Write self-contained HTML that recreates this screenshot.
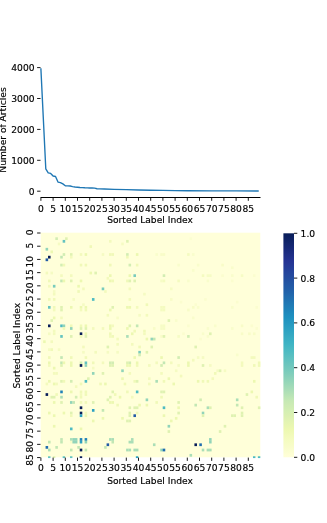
<!DOCTYPE html>
<html><head><meta charset="utf-8"><title>Label distribution</title>
<style>html,body{margin:0;padding:0;background:#fff}svg{display:block}svg text{stroke:#000;stroke-width:.16px;stroke-linejoin:round}</style></head>
<body>
<svg width="327" height="523" viewBox="0 0 327 523" font-family="'DejaVu Sans', 'Liberation Sans', sans-serif" font-size="9.15px" fill="#000">
<rect width="327" height="523" fill="#fff" stroke="none"/>
<path d="M40.90,68.84 L43.34,118.89 L45.78,168.80 L48.22,172.81 L50.66,173.43 L53.10,176.00 L55.54,176.52 L57.98,182.05 L60.42,182.61 L62.86,183.88 L65.30,185.70 L67.74,185.89 L70.18,186.01 L72.62,186.56 L75.06,186.97 L77.50,187.24 L79.94,187.49 L82.38,187.62 L84.82,187.80 L87.26,187.92 L89.70,187.99 L92.14,188.05 L94.58,188.17 L97.02,188.73 L99.46,188.85 L104.34,189.04 L114.10,189.35 L126.30,189.66 L138.50,189.96 L150.70,190.21 L162.90,190.43 L175.10,190.58 L187.30,190.71 L211.70,190.83 L236.10,190.92 L258.06,190.98" fill="none" stroke="#1f77b4" stroke-width="1.36" stroke-linejoin="round" stroke-linecap="square"/>
<path d="M40.60,197.5H260.50" stroke="#000" stroke-width="1.0" fill="none"/>
<path d="M40.90,197.5v3.3 M53.10,197.5v3.3 M65.30,197.5v3.3 M77.50,197.5v3.3 M89.70,197.5v3.3 M101.90,197.5v3.3 M114.10,197.5v3.3 M126.30,197.5v3.3 M138.50,197.5v3.3 M150.70,197.5v3.3 M162.90,197.5v3.3 M175.10,197.5v3.3 M187.30,197.5v3.3 M199.50,197.5v3.3 M211.70,197.5v3.3 M223.90,197.5v3.3 M236.10,197.5v3.3 M248.30,197.5v3.3 M40.50,191.20h-3.4 M40.50,160.30h-3.4 M40.50,129.40h-3.4 M40.50,98.50h-3.4 M40.50,67.60h-3.4" stroke="#000" stroke-width="0.9" fill="none"/>
<text x="40.90" y="211.5" text-anchor="middle">0</text>
<text x="53.10" y="211.5" text-anchor="middle">5</text>
<text x="65.30" y="211.5" text-anchor="middle">10</text>
<text x="77.50" y="211.5" text-anchor="middle">15</text>
<text x="89.70" y="211.5" text-anchor="middle">20</text>
<text x="101.90" y="211.5" text-anchor="middle">25</text>
<text x="114.10" y="211.5" text-anchor="middle">30</text>
<text x="126.30" y="211.5" text-anchor="middle">35</text>
<text x="138.50" y="211.5" text-anchor="middle">40</text>
<text x="150.70" y="211.5" text-anchor="middle">45</text>
<text x="162.90" y="211.5" text-anchor="middle">50</text>
<text x="175.10" y="211.5" text-anchor="middle">55</text>
<text x="187.30" y="211.5" text-anchor="middle">60</text>
<text x="199.50" y="211.5" text-anchor="middle">65</text>
<text x="211.70" y="211.5" text-anchor="middle">70</text>
<text x="223.90" y="211.5" text-anchor="middle">75</text>
<text x="236.10" y="211.5" text-anchor="middle">80</text>
<text x="248.30" y="211.5" text-anchor="middle">85</text>
<text x="34.5" y="194.60" text-anchor="end">0</text>
<text x="34.5" y="163.70" text-anchor="end">1000</text>
<text x="34.5" y="132.80" text-anchor="end">2000</text>
<text x="34.5" y="101.90" text-anchor="end">3000</text>
<text x="34.5" y="71.00" text-anchor="end">4000</text>
<text x="150" y="223" text-anchor="middle">Sorted Label Index</text>
<text transform="translate(6.3,130) rotate(-90)" text-anchor="middle">Number of Articles</text>
<rect x="40.7" y="232.7" width="219.60" height="224.60" fill="#ffffd9"/>
<defs><filter id="bl" x="-2%" y="-2%" width="104%" height="104%" color-interpolation-filters="sRGB"><feGaussianBlur stdDeviation="0.35"/></filter></defs>
<g filter="url(#bl)">
<rect x="55.34" y="237.28" width="2.56" height="2.76" fill="#d2edb3"/>
<rect x="65.10" y="237.28" width="2.56" height="2.76" fill="#dff2b2"/>
<rect x="189.54" y="237.28" width="2.56" height="2.76" fill="#fbfed1"/>
<rect x="62.66" y="239.93" width="2.56" height="2.76" fill="#64c3bf"/>
<rect x="109.02" y="239.93" width="2.56" height="2.76" fill="#f3fabd"/>
<rect x="126.10" y="239.93" width="2.56" height="2.76" fill="#dff2b2"/>
<rect x="57.78" y="242.57" width="2.56" height="2.76" fill="#f5fbc3"/>
<rect x="121.22" y="242.57" width="2.56" height="2.76" fill="#f5fbc3"/>
<rect x="89.50" y="245.21" width="2.56" height="2.76" fill="#f0f9b8"/>
<rect x="45.58" y="247.85" width="2.56" height="2.76" fill="#91d4b9"/>
<rect x="50.46" y="250.49" width="2.56" height="2.76" fill="#ecf8b1"/>
<rect x="62.66" y="253.14" width="2.56" height="2.76" fill="#d2edb3"/>
<rect x="69.98" y="253.14" width="2.56" height="2.76" fill="#dff2b2"/>
<rect x="79.74" y="253.14" width="2.56" height="2.76" fill="#f3fabd"/>
<rect x="84.62" y="253.14" width="2.56" height="2.76" fill="#ecf8b1"/>
<rect x="101.70" y="253.14" width="2.56" height="2.76" fill="#f5fbc3"/>
<rect x="109.02" y="253.14" width="2.56" height="2.76" fill="#f0f9b8"/>
<rect x="111.46" y="253.14" width="2.56" height="2.76" fill="#f0f9b8"/>
<rect x="126.10" y="253.14" width="2.56" height="2.76" fill="#d2edb3"/>
<rect x="135.86" y="253.14" width="2.56" height="2.76" fill="#ecf8b1"/>
<rect x="155.38" y="253.14" width="2.56" height="2.76" fill="#f9fdcc"/>
<rect x="160.26" y="253.14" width="2.56" height="2.76" fill="#f8fcc8"/>
<rect x="162.70" y="253.14" width="2.56" height="2.76" fill="#f8fcc8"/>
<rect x="187.10" y="253.14" width="2.56" height="2.76" fill="#f4fbc0"/>
<rect x="191.98" y="253.14" width="2.56" height="2.76" fill="#f9fdcc"/>
<rect x="48.02" y="255.78" width="2.56" height="2.76" fill="#081d58"/>
<rect x="60.22" y="255.78" width="2.56" height="2.76" fill="#c2e7b4"/>
<rect x="69.98" y="255.78" width="2.56" height="2.76" fill="#f3fabd"/>
<rect x="126.10" y="255.78" width="2.56" height="2.76" fill="#f0f9b8"/>
<rect x="45.58" y="258.42" width="2.56" height="2.76" fill="#225ba6"/>
<rect x="60.22" y="263.70" width="2.56" height="2.76" fill="#d2edb3"/>
<rect x="62.66" y="263.70" width="2.56" height="2.76" fill="#f0f9b8"/>
<rect x="79.74" y="263.70" width="2.56" height="2.76" fill="#f0f9b8"/>
<rect x="84.62" y="263.70" width="2.56" height="2.76" fill="#f0f9b8"/>
<rect x="109.02" y="263.70" width="2.56" height="2.76" fill="#f0f9b8"/>
<rect x="128.54" y="263.70" width="2.56" height="2.76" fill="#d2edb3"/>
<rect x="135.86" y="263.70" width="2.56" height="2.76" fill="#f0f9b8"/>
<rect x="177.34" y="263.70" width="2.56" height="2.76" fill="#f9fdcc"/>
<rect x="196.86" y="263.70" width="2.56" height="2.76" fill="#f9fdcc"/>
<rect x="221.26" y="263.70" width="2.56" height="2.76" fill="#f8fcc8"/>
<rect x="231.02" y="266.35" width="2.56" height="2.76" fill="#f9fdcc"/>
<rect x="191.98" y="268.99" width="2.56" height="2.76" fill="#f9fdcc"/>
<rect x="45.58" y="271.63" width="2.56" height="2.76" fill="#f3fabd"/>
<rect x="50.46" y="271.63" width="2.56" height="2.76" fill="#f5fbc3"/>
<rect x="89.50" y="271.63" width="2.56" height="2.76" fill="#ecf8b1"/>
<rect x="94.38" y="271.63" width="2.56" height="2.76" fill="#dff2b2"/>
<rect x="60.22" y="274.27" width="2.56" height="2.76" fill="#f3fabd"/>
<rect x="69.98" y="274.27" width="2.56" height="2.76" fill="#f3fabd"/>
<rect x="109.02" y="274.27" width="2.56" height="2.76" fill="#ecf8b1"/>
<rect x="128.54" y="274.27" width="2.56" height="2.76" fill="#ecf8b1"/>
<rect x="133.42" y="274.27" width="2.56" height="2.76" fill="#79cbbc"/>
<rect x="162.70" y="274.27" width="2.56" height="2.76" fill="#d2edb3"/>
<rect x="201.74" y="274.27" width="2.56" height="2.76" fill="#f4fbc0"/>
<rect x="206.62" y="274.27" width="2.56" height="2.76" fill="#f6fcc5"/>
<rect x="209.06" y="274.27" width="2.56" height="2.76" fill="#f6fcc5"/>
<rect x="221.26" y="274.27" width="2.56" height="2.76" fill="#fbfdcf"/>
<rect x="231.02" y="274.27" width="2.56" height="2.76" fill="#f9fdcc"/>
<rect x="240.78" y="274.27" width="2.56" height="2.76" fill="#f6fcc5"/>
<rect x="252.98" y="274.27" width="2.56" height="2.76" fill="#fbfdcf"/>
<rect x="106.58" y="276.91" width="2.56" height="2.76" fill="#f3fabd"/>
<rect x="48.02" y="279.56" width="2.56" height="2.76" fill="#f0f9b8"/>
<rect x="60.22" y="279.56" width="2.56" height="2.76" fill="#c2e7b4"/>
<rect x="62.66" y="279.56" width="2.56" height="2.76" fill="#ecf8b1"/>
<rect x="69.98" y="279.56" width="2.56" height="2.76" fill="#dff2b2"/>
<rect x="79.74" y="279.56" width="2.56" height="2.76" fill="#ecf8b1"/>
<rect x="109.02" y="279.56" width="2.56" height="2.76" fill="#ecf8b1"/>
<rect x="111.46" y="279.56" width="2.56" height="2.76" fill="#f0f9b8"/>
<rect x="126.10" y="279.56" width="2.56" height="2.76" fill="#f0f9b8"/>
<rect x="128.54" y="279.56" width="2.56" height="2.76" fill="#dff2b2"/>
<rect x="133.42" y="279.56" width="2.56" height="2.76" fill="#dff2b2"/>
<rect x="160.26" y="279.56" width="2.56" height="2.76" fill="#f6fcc5"/>
<rect x="162.70" y="279.56" width="2.56" height="2.76" fill="#f4fbc0"/>
<rect x="177.34" y="279.56" width="2.56" height="2.76" fill="#f4fbc0"/>
<rect x="187.10" y="279.56" width="2.56" height="2.76" fill="#f9fdcc"/>
<rect x="206.62" y="279.56" width="2.56" height="2.76" fill="#f9fdcc"/>
<rect x="231.02" y="279.56" width="2.56" height="2.76" fill="#fbfdcf"/>
<rect x="48.02" y="284.84" width="2.56" height="2.76" fill="#f3fabd"/>
<rect x="52.90" y="284.84" width="2.56" height="2.76" fill="#79cbbc"/>
<rect x="77.30" y="284.84" width="2.56" height="2.76" fill="#ecf8b1"/>
<rect x="82.18" y="287.48" width="2.56" height="2.76" fill="#f3fabd"/>
<rect x="101.70" y="287.48" width="2.56" height="2.76" fill="#79cbbc"/>
<rect x="128.54" y="287.48" width="2.56" height="2.76" fill="#f3fabd"/>
<rect x="170.02" y="287.48" width="2.56" height="2.76" fill="#f6fcc5"/>
<rect x="52.90" y="290.12" width="2.56" height="2.76" fill="#f5fbc3"/>
<rect x="77.30" y="290.12" width="2.56" height="2.76" fill="#f0f9b8"/>
<rect x="104.14" y="290.12" width="2.56" height="2.76" fill="#f3fabd"/>
<rect x="52.90" y="292.77" width="2.56" height="2.76" fill="#f3fabd"/>
<rect x="143.18" y="292.77" width="2.56" height="2.76" fill="#f5fbc3"/>
<rect x="48.02" y="298.05" width="2.56" height="2.76" fill="#f0f9b8"/>
<rect x="52.90" y="298.05" width="2.56" height="2.76" fill="#f0f9b8"/>
<rect x="72.42" y="298.05" width="2.56" height="2.76" fill="#f5fbc3"/>
<rect x="91.94" y="298.05" width="2.56" height="2.76" fill="#4ebbc2"/>
<rect x="128.54" y="298.05" width="2.56" height="2.76" fill="#f3fabd"/>
<rect x="170.02" y="298.05" width="2.56" height="2.76" fill="#f8fcc8"/>
<rect x="204.18" y="298.05" width="2.56" height="2.76" fill="#fbfdcf"/>
<rect x="179.78" y="300.69" width="2.56" height="2.76" fill="#fbfdcf"/>
<rect x="235.90" y="300.69" width="2.56" height="2.76" fill="#fbfdcf"/>
<rect x="82.18" y="303.33" width="2.56" height="2.76" fill="#f5fbc3"/>
<rect x="145.62" y="303.33" width="2.56" height="2.76" fill="#f0f9b8"/>
<rect x="194.42" y="303.33" width="2.56" height="2.76" fill="#fbfdcf"/>
<rect x="48.02" y="305.98" width="2.56" height="2.76" fill="#64c3bf"/>
<rect x="52.90" y="305.98" width="2.56" height="2.76" fill="#f0f9b8"/>
<rect x="60.22" y="305.98" width="2.56" height="2.76" fill="#dff2b2"/>
<rect x="69.98" y="305.98" width="2.56" height="2.76" fill="#ecf8b1"/>
<rect x="79.74" y="305.98" width="2.56" height="2.76" fill="#ecf8b1"/>
<rect x="84.62" y="305.98" width="2.56" height="2.76" fill="#ecf8b1"/>
<rect x="111.46" y="305.98" width="2.56" height="2.76" fill="#dff2b2"/>
<rect x="126.10" y="305.98" width="2.56" height="2.76" fill="#ecf8b1"/>
<rect x="128.54" y="305.98" width="2.56" height="2.76" fill="#ecf8b1"/>
<rect x="135.86" y="305.98" width="2.56" height="2.76" fill="#f3fabd"/>
<rect x="160.26" y="305.98" width="2.56" height="2.76" fill="#f4fbc0"/>
<rect x="162.70" y="305.98" width="2.56" height="2.76" fill="#f4fbc0"/>
<rect x="191.98" y="305.98" width="2.56" height="2.76" fill="#f8fcc8"/>
<rect x="196.86" y="305.98" width="2.56" height="2.76" fill="#f9fdcc"/>
<rect x="231.02" y="305.98" width="2.56" height="2.76" fill="#f9fdcc"/>
<rect x="255.42" y="305.98" width="2.56" height="2.76" fill="#fbfdcf"/>
<rect x="52.90" y="308.62" width="2.56" height="2.76" fill="#f3fabd"/>
<rect x="60.22" y="308.62" width="2.56" height="2.76" fill="#dff2b2"/>
<rect x="79.74" y="308.62" width="2.56" height="2.76" fill="#f3fabd"/>
<rect x="84.62" y="308.62" width="2.56" height="2.76" fill="#f0f9b8"/>
<rect x="109.02" y="308.62" width="2.56" height="2.76" fill="#ecf8b1"/>
<rect x="160.26" y="308.62" width="2.56" height="2.76" fill="#f4fbc0"/>
<rect x="162.70" y="308.62" width="2.56" height="2.76" fill="#f4fbc0"/>
<rect x="187.10" y="308.62" width="2.56" height="2.76" fill="#f8fcc8"/>
<rect x="106.58" y="313.90" width="2.56" height="2.76" fill="#f3fabd"/>
<rect x="138.30" y="313.90" width="2.56" height="2.76" fill="#f5fbc3"/>
<rect x="145.62" y="313.90" width="2.56" height="2.76" fill="#f3fabd"/>
<rect x="52.90" y="316.54" width="2.56" height="2.76" fill="#ecf8b1"/>
<rect x="60.22" y="316.54" width="2.56" height="2.76" fill="#f3fabd"/>
<rect x="116.34" y="316.54" width="2.56" height="2.76" fill="#f8fcc8"/>
<rect x="191.98" y="316.54" width="2.56" height="2.76" fill="#f9fdcc"/>
<rect x="50.46" y="319.19" width="2.56" height="2.76" fill="#dff2b2"/>
<rect x="167.58" y="319.19" width="2.56" height="2.76" fill="#dff2b2"/>
<rect x="174.90" y="319.19" width="2.56" height="2.76" fill="#f9fdcc"/>
<rect x="48.02" y="324.47" width="2.56" height="2.76" fill="#081d58"/>
<rect x="60.22" y="324.47" width="2.56" height="2.76" fill="#4ebbc2"/>
<rect x="62.66" y="324.47" width="2.56" height="2.76" fill="#91d4b9"/>
<rect x="69.98" y="324.47" width="2.56" height="2.76" fill="#f0f9b8"/>
<rect x="79.74" y="324.47" width="2.56" height="2.76" fill="#f0f9b8"/>
<rect x="84.62" y="324.47" width="2.56" height="2.76" fill="#ecf8b1"/>
<rect x="109.02" y="324.47" width="2.56" height="2.76" fill="#ecf8b1"/>
<rect x="111.46" y="324.47" width="2.56" height="2.76" fill="#f3fabd"/>
<rect x="128.54" y="324.47" width="2.56" height="2.76" fill="#dff2b2"/>
<rect x="135.86" y="324.47" width="2.56" height="2.76" fill="#c2e7b4"/>
<rect x="160.26" y="324.47" width="2.56" height="2.76" fill="#f6fcc5"/>
<rect x="162.70" y="324.47" width="2.56" height="2.76" fill="#f6fcc5"/>
<rect x="187.10" y="324.47" width="2.56" height="2.76" fill="#fbfdcf"/>
<rect x="213.94" y="324.47" width="2.56" height="2.76" fill="#f9fdcc"/>
<rect x="240.78" y="324.47" width="2.56" height="2.76" fill="#f8fcc8"/>
<rect x="250.54" y="324.47" width="2.56" height="2.76" fill="#fbfdcf"/>
<rect x="62.66" y="327.11" width="2.56" height="2.76" fill="#f0f9b8"/>
<rect x="69.98" y="327.11" width="2.56" height="2.76" fill="#91d4b9"/>
<rect x="79.74" y="327.11" width="2.56" height="2.76" fill="#dff2b2"/>
<rect x="84.62" y="327.11" width="2.56" height="2.76" fill="#dff2b2"/>
<rect x="91.94" y="327.11" width="2.56" height="2.76" fill="#f3fabd"/>
<rect x="101.70" y="327.11" width="2.56" height="2.76" fill="#f3fabd"/>
<rect x="109.02" y="327.11" width="2.56" height="2.76" fill="#ecf8b1"/>
<rect x="126.10" y="327.11" width="2.56" height="2.76" fill="#ecf8b1"/>
<rect x="152.94" y="327.11" width="2.56" height="2.76" fill="#f8fcc8"/>
<rect x="160.26" y="327.11" width="2.56" height="2.76" fill="#f6fcc5"/>
<rect x="162.70" y="327.11" width="2.56" height="2.76" fill="#f6fcc5"/>
<rect x="206.62" y="327.11" width="2.56" height="2.76" fill="#f9fdcc"/>
<rect x="231.02" y="327.11" width="2.56" height="2.76" fill="#f9fdcc"/>
<rect x="255.42" y="327.11" width="2.56" height="2.76" fill="#fbfdcf"/>
<rect x="52.90" y="329.75" width="2.56" height="2.76" fill="#f3fabd"/>
<rect x="133.42" y="329.75" width="2.56" height="2.76" fill="#f0f9b8"/>
<rect x="143.18" y="329.75" width="2.56" height="2.76" fill="#f0f9b8"/>
<rect x="48.02" y="332.40" width="2.56" height="2.76" fill="#f5fbc3"/>
<rect x="52.90" y="332.40" width="2.56" height="2.76" fill="#f3fabd"/>
<rect x="79.74" y="332.40" width="2.56" height="2.76" fill="#081d58"/>
<rect x="84.62" y="332.40" width="2.56" height="2.76" fill="#ecf8b1"/>
<rect x="109.02" y="332.40" width="2.56" height="2.76" fill="#f0f9b8"/>
<rect x="130.98" y="332.40" width="2.56" height="2.76" fill="#ecf8b1"/>
<rect x="143.18" y="332.40" width="2.56" height="2.76" fill="#f3fabd"/>
<rect x="182.22" y="332.40" width="2.56" height="2.76" fill="#fbfdcf"/>
<rect x="201.74" y="332.40" width="2.56" height="2.76" fill="#f9fdcc"/>
<rect x="209.06" y="332.40" width="2.56" height="2.76" fill="#dff2b2"/>
<rect x="240.78" y="332.40" width="2.56" height="2.76" fill="#f8fcc8"/>
<rect x="248.10" y="332.40" width="2.56" height="2.76" fill="#f8fcc8"/>
<rect x="252.98" y="332.40" width="2.56" height="2.76" fill="#f8fcc8"/>
<rect x="60.22" y="335.04" width="2.56" height="2.76" fill="#64c3bf"/>
<rect x="69.98" y="335.04" width="2.56" height="2.76" fill="#dff2b2"/>
<rect x="79.74" y="335.04" width="2.56" height="2.76" fill="#f0f9b8"/>
<rect x="84.62" y="335.04" width="2.56" height="2.76" fill="#dff2b2"/>
<rect x="109.02" y="335.04" width="2.56" height="2.76" fill="#f3fabd"/>
<rect x="111.46" y="335.04" width="2.56" height="2.76" fill="#f0f9b8"/>
<rect x="126.10" y="335.04" width="2.56" height="2.76" fill="#aadeb7"/>
<rect x="160.26" y="335.04" width="2.56" height="2.76" fill="#f8fcc8"/>
<rect x="162.70" y="335.04" width="2.56" height="2.76" fill="#dff2b2"/>
<rect x="177.34" y="335.04" width="2.56" height="2.76" fill="#f6fcc5"/>
<rect x="187.10" y="335.04" width="2.56" height="2.76" fill="#d2edb3"/>
<rect x="206.62" y="335.04" width="2.56" height="2.76" fill="#f9fdcc"/>
<rect x="116.34" y="337.68" width="2.56" height="2.76" fill="#f3fabd"/>
<rect x="145.62" y="337.68" width="2.56" height="2.76" fill="#ecf8b1"/>
<rect x="150.50" y="337.68" width="2.56" height="2.76" fill="#91d4b9"/>
<rect x="152.94" y="337.68" width="2.56" height="2.76" fill="#c2e7b4"/>
<rect x="199.30" y="337.68" width="2.56" height="2.76" fill="#fbfdcf"/>
<rect x="43.14" y="340.32" width="2.56" height="2.76" fill="#ecf8b1"/>
<rect x="50.46" y="340.32" width="2.56" height="2.76" fill="#f3fabd"/>
<rect x="116.34" y="342.96" width="2.56" height="2.76" fill="#f3fabd"/>
<rect x="130.98" y="342.96" width="2.56" height="2.76" fill="#f3fabd"/>
<rect x="82.18" y="345.61" width="2.56" height="2.76" fill="#f3fabd"/>
<rect x="106.58" y="345.61" width="2.56" height="2.76" fill="#dff2b2"/>
<rect x="138.30" y="345.61" width="2.56" height="2.76" fill="#f0f9b8"/>
<rect x="150.50" y="345.61" width="2.56" height="2.76" fill="#dff2b2"/>
<rect x="194.42" y="345.61" width="2.56" height="2.76" fill="#dff2b2"/>
<rect x="48.02" y="348.25" width="2.56" height="2.76" fill="#f5fbc3"/>
<rect x="50.46" y="348.25" width="2.56" height="2.76" fill="#f0f9b8"/>
<rect x="57.78" y="348.25" width="2.56" height="2.76" fill="#f5fbc3"/>
<rect x="82.18" y="350.89" width="2.56" height="2.76" fill="#f5fbc3"/>
<rect x="94.38" y="350.89" width="2.56" height="2.76" fill="#f3fabd"/>
<rect x="106.58" y="350.89" width="2.56" height="2.76" fill="#f5fbc3"/>
<rect x="116.34" y="350.89" width="2.56" height="2.76" fill="#f5fbc3"/>
<rect x="138.30" y="350.89" width="2.56" height="2.76" fill="#79cbbc"/>
<rect x="145.62" y="350.89" width="2.56" height="2.76" fill="#dff2b2"/>
<rect x="138.30" y="353.53" width="2.56" height="2.76" fill="#d2edb3"/>
<rect x="235.90" y="353.53" width="2.56" height="2.76" fill="#f9fdcc"/>
<rect x="48.02" y="356.17" width="2.56" height="2.76" fill="#f0f9b8"/>
<rect x="60.22" y="356.17" width="2.56" height="2.76" fill="#c2e7b4"/>
<rect x="69.98" y="356.17" width="2.56" height="2.76" fill="#f0f9b8"/>
<rect x="84.62" y="356.17" width="2.56" height="2.76" fill="#f0f9b8"/>
<rect x="133.42" y="356.17" width="2.56" height="2.76" fill="#ecf8b1"/>
<rect x="160.26" y="356.17" width="2.56" height="2.76" fill="#ecf8b1"/>
<rect x="177.34" y="356.17" width="2.56" height="2.76" fill="#d2edb3"/>
<rect x="196.86" y="356.17" width="2.56" height="2.76" fill="#f5fbc3"/>
<rect x="201.74" y="356.17" width="2.56" height="2.76" fill="#f5fbc3"/>
<rect x="250.54" y="356.17" width="2.56" height="2.76" fill="#f3fabd"/>
<rect x="252.98" y="356.17" width="2.56" height="2.76" fill="#f3fabd"/>
<rect x="191.98" y="358.82" width="2.56" height="2.76" fill="#f3fabd"/>
<rect x="48.02" y="361.46" width="2.56" height="2.76" fill="#ecf8b1"/>
<rect x="60.22" y="361.46" width="2.56" height="2.76" fill="#c2e7b4"/>
<rect x="62.66" y="361.46" width="2.56" height="2.76" fill="#ecf8b1"/>
<rect x="69.98" y="361.46" width="2.56" height="2.76" fill="#ecf8b1"/>
<rect x="79.74" y="361.46" width="2.56" height="2.76" fill="#d2edb3"/>
<rect x="84.62" y="361.46" width="2.56" height="2.76" fill="#64c3bf"/>
<rect x="91.94" y="361.46" width="2.56" height="2.76" fill="#f0f9b8"/>
<rect x="101.70" y="361.46" width="2.56" height="2.76" fill="#f3fabd"/>
<rect x="109.02" y="361.46" width="2.56" height="2.76" fill="#d2edb3"/>
<rect x="111.46" y="361.46" width="2.56" height="2.76" fill="#d2edb3"/>
<rect x="126.10" y="361.46" width="2.56" height="2.76" fill="#dff2b2"/>
<rect x="128.54" y="361.46" width="2.56" height="2.76" fill="#d2edb3"/>
<rect x="135.86" y="361.46" width="2.56" height="2.76" fill="#ecf8b1"/>
<rect x="155.38" y="361.46" width="2.56" height="2.76" fill="#f3fabd"/>
<rect x="162.70" y="361.46" width="2.56" height="2.76" fill="#c2e7b4"/>
<rect x="170.02" y="361.46" width="2.56" height="2.76" fill="#f3fabd"/>
<rect x="187.10" y="361.46" width="2.56" height="2.76" fill="#ecf8b1"/>
<rect x="240.78" y="361.46" width="2.56" height="2.76" fill="#f3fabd"/>
<rect x="257.86" y="361.46" width="2.56" height="2.76" fill="#f0f9b8"/>
<rect x="48.02" y="364.10" width="2.56" height="2.76" fill="#f3fabd"/>
<rect x="60.22" y="364.10" width="2.56" height="2.76" fill="#dff2b2"/>
<rect x="69.98" y="364.10" width="2.56" height="2.76" fill="#ecf8b1"/>
<rect x="79.74" y="364.10" width="2.56" height="2.76" fill="#081d58"/>
<rect x="84.62" y="364.10" width="2.56" height="2.76" fill="#91d4b9"/>
<rect x="109.02" y="364.10" width="2.56" height="2.76" fill="#dff2b2"/>
<rect x="111.46" y="364.10" width="2.56" height="2.76" fill="#dff2b2"/>
<rect x="126.10" y="364.10" width="2.56" height="2.76" fill="#ecf8b1"/>
<rect x="128.54" y="364.10" width="2.56" height="2.76" fill="#ecf8b1"/>
<rect x="135.86" y="364.10" width="2.56" height="2.76" fill="#f0f9b8"/>
<rect x="148.06" y="364.10" width="2.56" height="2.76" fill="#f3fabd"/>
<rect x="160.26" y="364.10" width="2.56" height="2.76" fill="#d2edb3"/>
<rect x="177.34" y="364.10" width="2.56" height="2.76" fill="#f5fbc3"/>
<rect x="187.10" y="364.10" width="2.56" height="2.76" fill="#ecf8b1"/>
<rect x="201.74" y="364.10" width="2.56" height="2.76" fill="#dff2b2"/>
<rect x="209.06" y="364.10" width="2.56" height="2.76" fill="#f5fbc3"/>
<rect x="240.78" y="364.10" width="2.56" height="2.76" fill="#f3fabd"/>
<rect x="252.98" y="364.10" width="2.56" height="2.76" fill="#f0f9b8"/>
<rect x="257.86" y="364.10" width="2.56" height="2.76" fill="#f0f9b8"/>
<rect x="52.90" y="366.74" width="2.56" height="2.76" fill="#ecf8b1"/>
<rect x="91.94" y="366.74" width="2.56" height="2.76" fill="#f5fbc3"/>
<rect x="121.22" y="369.38" width="2.56" height="2.76" fill="#91d4b9"/>
<rect x="174.90" y="369.38" width="2.56" height="2.76" fill="#f5fbc3"/>
<rect x="216.38" y="369.38" width="2.56" height="2.76" fill="#f5fbc3"/>
<rect x="218.82" y="369.38" width="2.56" height="2.76" fill="#dff2b2"/>
<rect x="223.70" y="369.38" width="2.56" height="2.76" fill="#f5fbc3"/>
<rect x="52.90" y="372.03" width="2.56" height="2.76" fill="#f3fabd"/>
<rect x="55.34" y="372.03" width="2.56" height="2.76" fill="#f3fabd"/>
<rect x="91.94" y="372.03" width="2.56" height="2.76" fill="#91d4b9"/>
<rect x="101.70" y="372.03" width="2.56" height="2.76" fill="#dff2b2"/>
<rect x="128.54" y="372.03" width="2.56" height="2.76" fill="#f3fabd"/>
<rect x="160.26" y="372.03" width="2.56" height="2.76" fill="#f3fabd"/>
<rect x="213.94" y="372.03" width="2.56" height="2.76" fill="#f0f9b8"/>
<rect x="179.78" y="374.67" width="2.56" height="2.76" fill="#f3fabd"/>
<rect x="87.06" y="377.31" width="2.56" height="2.76" fill="#dff2b2"/>
<rect x="121.22" y="377.31" width="2.56" height="2.76" fill="#ecf8b1"/>
<rect x="148.06" y="377.31" width="2.56" height="2.76" fill="#f3fabd"/>
<rect x="167.58" y="377.31" width="2.56" height="2.76" fill="#ecf8b1"/>
<rect x="211.50" y="377.31" width="2.56" height="2.76" fill="#f3fabd"/>
<rect x="48.02" y="379.95" width="2.56" height="2.76" fill="#ecf8b1"/>
<rect x="60.22" y="379.95" width="2.56" height="2.76" fill="#dff2b2"/>
<rect x="62.66" y="379.95" width="2.56" height="2.76" fill="#f0f9b8"/>
<rect x="69.98" y="379.95" width="2.56" height="2.76" fill="#d2edb3"/>
<rect x="84.62" y="379.95" width="2.56" height="2.76" fill="#4ebbc2"/>
<rect x="133.42" y="379.95" width="2.56" height="2.76" fill="#f0f9b8"/>
<rect x="135.86" y="379.95" width="2.56" height="2.76" fill="#dff2b2"/>
<rect x="155.38" y="379.95" width="2.56" height="2.76" fill="#aadeb7"/>
<rect x="162.70" y="379.95" width="2.56" height="2.76" fill="#f0f9b8"/>
<rect x="196.86" y="379.95" width="2.56" height="2.76" fill="#ecf8b1"/>
<rect x="201.74" y="379.95" width="2.56" height="2.76" fill="#f0f9b8"/>
<rect x="206.62" y="379.95" width="2.56" height="2.76" fill="#f0f9b8"/>
<rect x="252.98" y="379.95" width="2.56" height="2.76" fill="#ecf8b1"/>
<rect x="45.58" y="382.59" width="2.56" height="2.76" fill="#f3fabd"/>
<rect x="52.90" y="382.59" width="2.56" height="2.76" fill="#ecf8b1"/>
<rect x="55.34" y="382.59" width="2.56" height="2.76" fill="#f3fabd"/>
<rect x="79.74" y="382.59" width="2.56" height="2.76" fill="#f0f9b8"/>
<rect x="99.26" y="382.59" width="2.56" height="2.76" fill="#f0f9b8"/>
<rect x="104.14" y="382.59" width="2.56" height="2.76" fill="#ecf8b1"/>
<rect x="123.66" y="382.59" width="2.56" height="2.76" fill="#f0f9b8"/>
<rect x="148.06" y="382.59" width="2.56" height="2.76" fill="#f3fabd"/>
<rect x="172.46" y="382.59" width="2.56" height="2.76" fill="#ecf8b1"/>
<rect x="74.86" y="385.24" width="2.56" height="2.76" fill="#f3fabd"/>
<rect x="60.22" y="390.52" width="2.56" height="2.76" fill="#1f81b8"/>
<rect x="69.98" y="390.52" width="2.56" height="2.76" fill="#ecf8b1"/>
<rect x="79.74" y="390.52" width="2.56" height="2.76" fill="#f0f9b8"/>
<rect x="84.62" y="390.52" width="2.56" height="2.76" fill="#f0f9b8"/>
<rect x="111.46" y="390.52" width="2.56" height="2.76" fill="#dff2b2"/>
<rect x="126.10" y="390.52" width="2.56" height="2.76" fill="#f0f9b8"/>
<rect x="135.86" y="390.52" width="2.56" height="2.76" fill="#4ebbc2"/>
<rect x="160.26" y="390.52" width="2.56" height="2.76" fill="#dff2b2"/>
<rect x="162.70" y="390.52" width="2.56" height="2.76" fill="#dff2b2"/>
<rect x="250.54" y="390.52" width="2.56" height="2.76" fill="#ecf8b1"/>
<rect x="45.58" y="393.16" width="2.56" height="2.76" fill="#081d58"/>
<rect x="55.34" y="393.16" width="2.56" height="2.76" fill="#f0f9b8"/>
<rect x="79.74" y="393.16" width="2.56" height="2.76" fill="#f3fabd"/>
<rect x="84.62" y="393.16" width="2.56" height="2.76" fill="#f0f9b8"/>
<rect x="113.90" y="393.16" width="2.56" height="2.76" fill="#f0f9b8"/>
<rect x="245.66" y="393.16" width="2.56" height="2.76" fill="#dff2b2"/>
<rect x="50.46" y="395.80" width="2.56" height="2.76" fill="#dff2b2"/>
<rect x="52.90" y="395.80" width="2.56" height="2.76" fill="#dff2b2"/>
<rect x="60.22" y="395.80" width="2.56" height="2.76" fill="#aadeb7"/>
<rect x="74.86" y="395.80" width="2.56" height="2.76" fill="#d2edb3"/>
<rect x="79.74" y="395.80" width="2.56" height="2.76" fill="#f0f9b8"/>
<rect x="109.02" y="395.80" width="2.56" height="2.76" fill="#dff2b2"/>
<rect x="118.78" y="395.80" width="2.56" height="2.76" fill="#ecf8b1"/>
<rect x="130.98" y="395.80" width="2.56" height="2.76" fill="#f3fabd"/>
<rect x="160.26" y="395.80" width="2.56" height="2.76" fill="#f0f9b8"/>
<rect x="255.42" y="395.80" width="2.56" height="2.76" fill="#f0f9b8"/>
<rect x="106.58" y="398.45" width="2.56" height="2.76" fill="#dff2b2"/>
<rect x="145.62" y="398.45" width="2.56" height="2.76" fill="#91d4b9"/>
<rect x="199.30" y="398.45" width="2.56" height="2.76" fill="#d2edb3"/>
<rect x="235.90" y="398.45" width="2.56" height="2.76" fill="#aadeb7"/>
<rect x="52.90" y="401.09" width="2.56" height="2.76" fill="#ecf8b1"/>
<rect x="60.22" y="401.09" width="2.56" height="2.76" fill="#dff2b2"/>
<rect x="69.98" y="401.09" width="2.56" height="2.76" fill="#91d4b9"/>
<rect x="72.42" y="401.09" width="2.56" height="2.76" fill="#c2e7b4"/>
<rect x="79.74" y="401.09" width="2.56" height="2.76" fill="#f0f9b8"/>
<rect x="84.62" y="401.09" width="2.56" height="2.76" fill="#f0f9b8"/>
<rect x="91.94" y="401.09" width="2.56" height="2.76" fill="#dff2b2"/>
<rect x="109.02" y="401.09" width="2.56" height="2.76" fill="#ecf8b1"/>
<rect x="111.46" y="401.09" width="2.56" height="2.76" fill="#ecf8b1"/>
<rect x="155.38" y="401.09" width="2.56" height="2.76" fill="#f0f9b8"/>
<rect x="177.34" y="401.09" width="2.56" height="2.76" fill="#dff2b2"/>
<rect x="116.34" y="403.73" width="2.56" height="2.76" fill="#f0f9b8"/>
<rect x="138.30" y="403.73" width="2.56" height="2.76" fill="#ecf8b1"/>
<rect x="145.62" y="403.73" width="2.56" height="2.76" fill="#ecf8b1"/>
<rect x="194.42" y="403.73" width="2.56" height="2.76" fill="#c2e7b4"/>
<rect x="235.90" y="403.73" width="2.56" height="2.76" fill="#c2e7b4"/>
<rect x="79.74" y="406.37" width="2.56" height="2.76" fill="#081d58"/>
<rect x="128.54" y="406.37" width="2.56" height="2.76" fill="#dff2b2"/>
<rect x="133.42" y="406.37" width="2.56" height="2.76" fill="#dff2b2"/>
<rect x="135.86" y="406.37" width="2.56" height="2.76" fill="#dff2b2"/>
<rect x="162.70" y="406.37" width="2.56" height="2.76" fill="#4ebbc2"/>
<rect x="177.34" y="406.37" width="2.56" height="2.76" fill="#ecf8b1"/>
<rect x="206.62" y="406.37" width="2.56" height="2.76" fill="#aadeb7"/>
<rect x="209.06" y="406.37" width="2.56" height="2.76" fill="#dff2b2"/>
<rect x="240.78" y="406.37" width="2.56" height="2.76" fill="#dff2b2"/>
<rect x="257.86" y="406.37" width="2.56" height="2.76" fill="#dff2b2"/>
<rect x="91.94" y="409.01" width="2.56" height="2.76" fill="#2da1c2"/>
<rect x="101.70" y="409.01" width="2.56" height="2.76" fill="#c2e7b4"/>
<rect x="48.02" y="411.66" width="2.56" height="2.76" fill="#ecf8b1"/>
<rect x="62.66" y="411.66" width="2.56" height="2.76" fill="#ecf8b1"/>
<rect x="69.98" y="411.66" width="2.56" height="2.76" fill="#dff2b2"/>
<rect x="79.74" y="411.66" width="2.56" height="2.76" fill="#081d58"/>
<rect x="84.62" y="411.66" width="2.56" height="2.76" fill="#f3fabd"/>
<rect x="128.54" y="411.66" width="2.56" height="2.76" fill="#dff2b2"/>
<rect x="135.86" y="411.66" width="2.56" height="2.76" fill="#f0f9b8"/>
<rect x="177.34" y="411.66" width="2.56" height="2.76" fill="#dff2b2"/>
<rect x="201.74" y="411.66" width="2.56" height="2.76" fill="#91d4b9"/>
<rect x="240.78" y="411.66" width="2.56" height="2.76" fill="#dff2b2"/>
<rect x="52.90" y="414.30" width="2.56" height="2.76" fill="#ecf8b1"/>
<rect x="69.98" y="414.30" width="2.56" height="2.76" fill="#f0f9b8"/>
<rect x="79.74" y="414.30" width="2.56" height="2.76" fill="#2da1c2"/>
<rect x="84.62" y="414.30" width="2.56" height="2.76" fill="#ecf8b1"/>
<rect x="128.54" y="414.30" width="2.56" height="2.76" fill="#dff2b2"/>
<rect x="133.42" y="414.30" width="2.56" height="2.76" fill="#225ba6"/>
<rect x="162.70" y="414.30" width="2.56" height="2.76" fill="#ecf8b1"/>
<rect x="201.74" y="414.30" width="2.56" height="2.76" fill="#dff2b2"/>
<rect x="231.02" y="414.30" width="2.56" height="2.76" fill="#dff2b2"/>
<rect x="233.46" y="414.30" width="2.56" height="2.76" fill="#dff2b2"/>
<rect x="240.78" y="414.30" width="2.56" height="2.76" fill="#dff2b2"/>
<rect x="101.70" y="416.94" width="2.56" height="2.76" fill="#ecf8b1"/>
<rect x="121.22" y="416.94" width="2.56" height="2.76" fill="#ecf8b1"/>
<rect x="174.90" y="416.94" width="2.56" height="2.76" fill="#ecf8b1"/>
<rect x="91.94" y="419.58" width="2.56" height="2.76" fill="#ecf8b1"/>
<rect x="126.10" y="419.58" width="2.56" height="2.76" fill="#dff2b2"/>
<rect x="128.54" y="419.58" width="2.56" height="2.76" fill="#dff2b2"/>
<rect x="170.02" y="419.58" width="2.56" height="2.76" fill="#ecf8b1"/>
<rect x="52.90" y="424.87" width="2.56" height="2.76" fill="#ecf8b1"/>
<rect x="167.58" y="424.87" width="2.56" height="2.76" fill="#91d4b9"/>
<rect x="223.70" y="424.87" width="2.56" height="2.76" fill="#dff2b2"/>
<rect x="69.98" y="427.51" width="2.56" height="2.76" fill="#4ebbc2"/>
<rect x="79.74" y="427.51" width="2.56" height="2.76" fill="#ecf8b1"/>
<rect x="167.58" y="430.15" width="2.56" height="2.76" fill="#dff2b2"/>
<rect x="218.82" y="430.15" width="2.56" height="2.76" fill="#dff2b2"/>
<rect x="60.22" y="438.08" width="2.56" height="2.76" fill="#c2e7b4"/>
<rect x="69.98" y="438.08" width="2.56" height="2.76" fill="#aadeb7"/>
<rect x="72.42" y="438.08" width="2.56" height="2.76" fill="#91d4b9"/>
<rect x="74.86" y="438.08" width="2.56" height="2.76" fill="#91d4b9"/>
<rect x="79.74" y="438.08" width="2.56" height="2.76" fill="#1f81b8"/>
<rect x="84.62" y="438.08" width="2.56" height="2.76" fill="#1f81b8"/>
<rect x="109.02" y="438.08" width="2.56" height="2.76" fill="#aadeb7"/>
<rect x="111.46" y="438.08" width="2.56" height="2.76" fill="#aadeb7"/>
<rect x="130.98" y="438.08" width="2.56" height="2.76" fill="#aadeb7"/>
<rect x="209.06" y="438.08" width="2.56" height="2.76" fill="#91d4b9"/>
<rect x="48.02" y="440.72" width="2.56" height="2.76" fill="#c2e7b4"/>
<rect x="60.22" y="440.72" width="2.56" height="2.76" fill="#c2e7b4"/>
<rect x="69.98" y="440.72" width="2.56" height="2.76" fill="#f8fcc8"/>
<rect x="72.42" y="440.72" width="2.56" height="2.76" fill="#91d4b9"/>
<rect x="74.86" y="440.72" width="2.56" height="2.76" fill="#91d4b9"/>
<rect x="79.74" y="440.72" width="2.56" height="2.76" fill="#2da1c2"/>
<rect x="84.62" y="440.72" width="2.56" height="2.76" fill="#91d4b9"/>
<rect x="111.46" y="440.72" width="2.56" height="2.76" fill="#c2e7b4"/>
<rect x="128.54" y="440.72" width="2.56" height="2.76" fill="#aadeb7"/>
<rect x="130.98" y="440.72" width="2.56" height="2.76" fill="#aadeb7"/>
<rect x="209.06" y="440.72" width="2.56" height="2.76" fill="#91d4b9"/>
<rect x="106.58" y="443.36" width="2.56" height="2.76" fill="#225ba6"/>
<rect x="152.94" y="443.36" width="2.56" height="2.76" fill="#aadeb7"/>
<rect x="194.42" y="443.36" width="2.56" height="2.76" fill="#081d58"/>
<rect x="199.30" y="443.36" width="2.56" height="2.76" fill="#206daf"/>
<rect x="45.58" y="446.00" width="2.56" height="2.76" fill="#206daf"/>
<rect x="55.34" y="446.00" width="2.56" height="2.76" fill="#c2e7b4"/>
<rect x="77.30" y="446.00" width="2.56" height="2.76" fill="#c2e7b4"/>
<rect x="104.14" y="446.00" width="2.56" height="2.76" fill="#c2e7b4"/>
<rect x="48.02" y="448.64" width="2.56" height="2.76" fill="#aadeb7"/>
<rect x="69.98" y="448.64" width="2.56" height="2.76" fill="#c2e7b4"/>
<rect x="79.74" y="448.64" width="2.56" height="2.76" fill="#081d58"/>
<rect x="84.62" y="448.64" width="2.56" height="2.76" fill="#c2e7b4"/>
<rect x="126.10" y="448.64" width="2.56" height="2.76" fill="#aadeb7"/>
<rect x="128.54" y="448.64" width="2.56" height="2.76" fill="#aadeb7"/>
<rect x="133.42" y="448.64" width="2.56" height="2.76" fill="#aadeb7"/>
<rect x="135.86" y="448.64" width="2.56" height="2.76" fill="#aadeb7"/>
<rect x="160.26" y="448.64" width="2.56" height="2.76" fill="#91d4b9"/>
<rect x="162.70" y="448.64" width="2.56" height="2.76" fill="#206daf"/>
<rect x="201.74" y="448.64" width="2.56" height="2.76" fill="#aadeb7"/>
<rect x="206.62" y="448.64" width="2.56" height="2.76" fill="#aadeb7"/>
<rect x="209.06" y="448.64" width="2.56" height="2.76" fill="#aadeb7"/>
<rect x="189.54" y="453.93" width="2.56" height="2.76" fill="#aadeb7"/>
<rect x="48.02" y="456.27" width="2.44" height="1.8" fill="#64c3bf"/>
<rect x="52.90" y="456.27" width="2.44" height="1.8" fill="#dff2b2"/>
<rect x="62.66" y="456.27" width="2.44" height="1.8" fill="#64c3bf"/>
<rect x="69.98" y="456.27" width="2.44" height="1.8" fill="#64c3bf"/>
<rect x="79.74" y="456.27" width="2.44" height="1.8" fill="#081d58"/>
<rect x="135.86" y="456.27" width="2.44" height="1.8" fill="#2da1c2"/>
<rect x="252.98" y="456.27" width="2.44" height="1.8" fill="#4ebbc2"/>
<rect x="257.86" y="456.27" width="2.44" height="1.8" fill="#4ebbc2"/>
</g>
<path d="M40.90,457.6v3.3 M53.10,457.6v3.3 M65.30,457.6v3.3 M77.50,457.6v3.3 M89.70,457.6v3.3 M101.90,457.6v3.3 M114.10,457.6v3.3 M126.30,457.6v3.3 M138.50,457.6v3.3 M150.70,457.6v3.3 M162.90,457.6v3.3 M175.10,457.6v3.3 M187.30,457.6v3.3 M199.50,457.6v3.3 M211.70,457.6v3.3 M223.90,457.6v3.3 M236.10,457.6v3.3 M248.30,457.6v3.3 M40.50,233.00h-3.4 M40.50,246.21h-3.4 M40.50,259.42h-3.4 M40.50,272.63h-3.4 M40.50,285.84h-3.4 M40.50,299.05h-3.4 M40.50,312.26h-3.4 M40.50,325.47h-3.4 M40.50,338.68h-3.4 M40.50,351.89h-3.4 M40.50,365.10h-3.4 M40.50,378.31h-3.4 M40.50,391.52h-3.4 M40.50,404.73h-3.4 M40.50,417.94h-3.4 M40.50,431.15h-3.4 M40.50,444.36h-3.4 M40.50,457.57h-3.4" stroke="#000" stroke-width="0.9" fill="none"/>
<text x="40.90" y="470.8" text-anchor="middle">0</text>
<text x="53.10" y="470.8" text-anchor="middle">5</text>
<text x="65.30" y="470.8" text-anchor="middle">10</text>
<text x="77.50" y="470.8" text-anchor="middle">15</text>
<text x="89.70" y="470.8" text-anchor="middle">20</text>
<text x="101.90" y="470.8" text-anchor="middle">25</text>
<text x="114.10" y="470.8" text-anchor="middle">30</text>
<text x="126.30" y="470.8" text-anchor="middle">35</text>
<text x="138.50" y="470.8" text-anchor="middle">40</text>
<text x="150.70" y="470.8" text-anchor="middle">45</text>
<text x="162.90" y="470.8" text-anchor="middle">50</text>
<text x="175.10" y="470.8" text-anchor="middle">55</text>
<text x="187.30" y="470.8" text-anchor="middle">60</text>
<text x="199.50" y="470.8" text-anchor="middle">65</text>
<text x="211.70" y="470.8" text-anchor="middle">70</text>
<text x="223.90" y="470.8" text-anchor="middle">75</text>
<text x="236.10" y="470.8" text-anchor="middle">80</text>
<text x="248.30" y="470.8" text-anchor="middle">85</text>
<text transform="translate(33.0,229.50) rotate(-90)" text-anchor="end">0</text>
<text transform="translate(33.0,242.71) rotate(-90)" text-anchor="end">5</text>
<text transform="translate(33.0,255.92) rotate(-90)" text-anchor="end">10</text>
<text transform="translate(33.0,269.13) rotate(-90)" text-anchor="end">15</text>
<text transform="translate(33.0,282.34) rotate(-90)" text-anchor="end">20</text>
<text transform="translate(33.0,295.55) rotate(-90)" text-anchor="end">25</text>
<text transform="translate(33.0,308.76) rotate(-90)" text-anchor="end">30</text>
<text transform="translate(33.0,321.97) rotate(-90)" text-anchor="end">35</text>
<text transform="translate(33.0,335.18) rotate(-90)" text-anchor="end">40</text>
<text transform="translate(33.0,348.39) rotate(-90)" text-anchor="end">45</text>
<text transform="translate(33.0,361.60) rotate(-90)" text-anchor="end">50</text>
<text transform="translate(33.0,374.81) rotate(-90)" text-anchor="end">55</text>
<text transform="translate(33.0,388.02) rotate(-90)" text-anchor="end">60</text>
<text transform="translate(33.0,401.23) rotate(-90)" text-anchor="end">65</text>
<text transform="translate(33.0,414.44) rotate(-90)" text-anchor="end">70</text>
<text transform="translate(33.0,427.65) rotate(-90)" text-anchor="end">75</text>
<text transform="translate(33.0,440.86) rotate(-90)" text-anchor="end">80</text>
<text transform="translate(33.0,454.07) rotate(-90)" text-anchor="end">85</text>
<text x="150" y="483.8" text-anchor="middle">Sorted Label Index</text>
<text transform="translate(20.2,345.6) rotate(-90)" text-anchor="middle">Sorted Label Index</text>
<defs><linearGradient id="cb" x1="0" y1="1" x2="0" y2="0">
<stop offset="0.0000" stop-color="#ffffd9"/>
<stop offset="0.0156" stop-color="#fdfed4"/>
<stop offset="0.0312" stop-color="#fafdcf"/>
<stop offset="0.0469" stop-color="#f8fcca"/>
<stop offset="0.0625" stop-color="#f6fcc5"/>
<stop offset="0.0781" stop-color="#f4fbc0"/>
<stop offset="0.0938" stop-color="#f2fabb"/>
<stop offset="0.1094" stop-color="#eff9b6"/>
<stop offset="0.1250" stop-color="#edf8b1"/>
<stop offset="0.1406" stop-color="#e8f6b1"/>
<stop offset="0.1562" stop-color="#e4f4b2"/>
<stop offset="0.1719" stop-color="#dff2b2"/>
<stop offset="0.1875" stop-color="#daf0b2"/>
<stop offset="0.2031" stop-color="#d5efb3"/>
<stop offset="0.2188" stop-color="#d0edb3"/>
<stop offset="0.2344" stop-color="#ccebb4"/>
<stop offset="0.2500" stop-color="#c7e9b4"/>
<stop offset="0.2656" stop-color="#bee6b5"/>
<stop offset="0.2812" stop-color="#b5e2b6"/>
<stop offset="0.2969" stop-color="#acdeb7"/>
<stop offset="0.3125" stop-color="#a3dbb8"/>
<stop offset="0.3281" stop-color="#9ad8b8"/>
<stop offset="0.3438" stop-color="#91d4b9"/>
<stop offset="0.3594" stop-color="#88d0ba"/>
<stop offset="0.3750" stop-color="#7fcdbb"/>
<stop offset="0.3906" stop-color="#77cabc"/>
<stop offset="0.4062" stop-color="#70c7bd"/>
<stop offset="0.4219" stop-color="#68c4be"/>
<stop offset="0.4375" stop-color="#60c2c0"/>
<stop offset="0.4531" stop-color="#58bfc1"/>
<stop offset="0.4688" stop-color="#50bcc2"/>
<stop offset="0.4844" stop-color="#49b9c3"/>
<stop offset="0.5000" stop-color="#41b6c4"/>
<stop offset="0.5156" stop-color="#3cb1c4"/>
<stop offset="0.5312" stop-color="#38adc3"/>
<stop offset="0.5469" stop-color="#34a8c2"/>
<stop offset="0.5625" stop-color="#2fa4c2"/>
<stop offset="0.5781" stop-color="#2a9fc2"/>
<stop offset="0.5938" stop-color="#269ac1"/>
<stop offset="0.6094" stop-color="#2296c0"/>
<stop offset="0.6250" stop-color="#1d91c0"/>
<stop offset="0.6406" stop-color="#1e8bbd"/>
<stop offset="0.6562" stop-color="#1e84ba"/>
<stop offset="0.6719" stop-color="#1f7eb7"/>
<stop offset="0.6875" stop-color="#2078b4"/>
<stop offset="0.7031" stop-color="#2071b1"/>
<stop offset="0.7188" stop-color="#216bae"/>
<stop offset="0.7344" stop-color="#2164ab"/>
<stop offset="0.7500" stop-color="#225ea8"/>
<stop offset="0.7656" stop-color="#2259a6"/>
<stop offset="0.7812" stop-color="#2354a3"/>
<stop offset="0.7969" stop-color="#234ea0"/>
<stop offset="0.8125" stop-color="#24499e"/>
<stop offset="0.8281" stop-color="#24449c"/>
<stop offset="0.8438" stop-color="#243e99"/>
<stop offset="0.8594" stop-color="#253996"/>
<stop offset="0.8750" stop-color="#253494"/>
<stop offset="0.8906" stop-color="#21318c"/>
<stop offset="0.9062" stop-color="#1e2e85"/>
<stop offset="0.9219" stop-color="#1a2b7e"/>
<stop offset="0.9375" stop-color="#162876"/>
<stop offset="0.9531" stop-color="#13266e"/>
<stop offset="0.9688" stop-color="#0f2367"/>
<stop offset="0.9844" stop-color="#0c2060"/>
<stop offset="1.0000" stop-color="#081d58"/>
</linearGradient></defs>
<rect x="283.4" y="233.3" width="10.60" height="224.00" fill="url(#cb)"/>
<text x="300.6" y="460.70">0.0</text>
<text x="300.6" y="415.90">0.2</text>
<text x="300.6" y="371.10">0.4</text>
<text x="300.6" y="326.30">0.6</text>
<text x="300.6" y="281.50">0.8</text>
<text x="300.6" y="236.70">1.0</text>
<path d="M294.0,457.30h3.3 M294.0,412.50h3.3 M294.0,367.70h3.3 M294.0,322.90h3.3 M294.0,278.10h3.3 M294.0,233.30h3.3" stroke="#000" stroke-width="0.9" fill="none"/>
</svg>
</body></html>
